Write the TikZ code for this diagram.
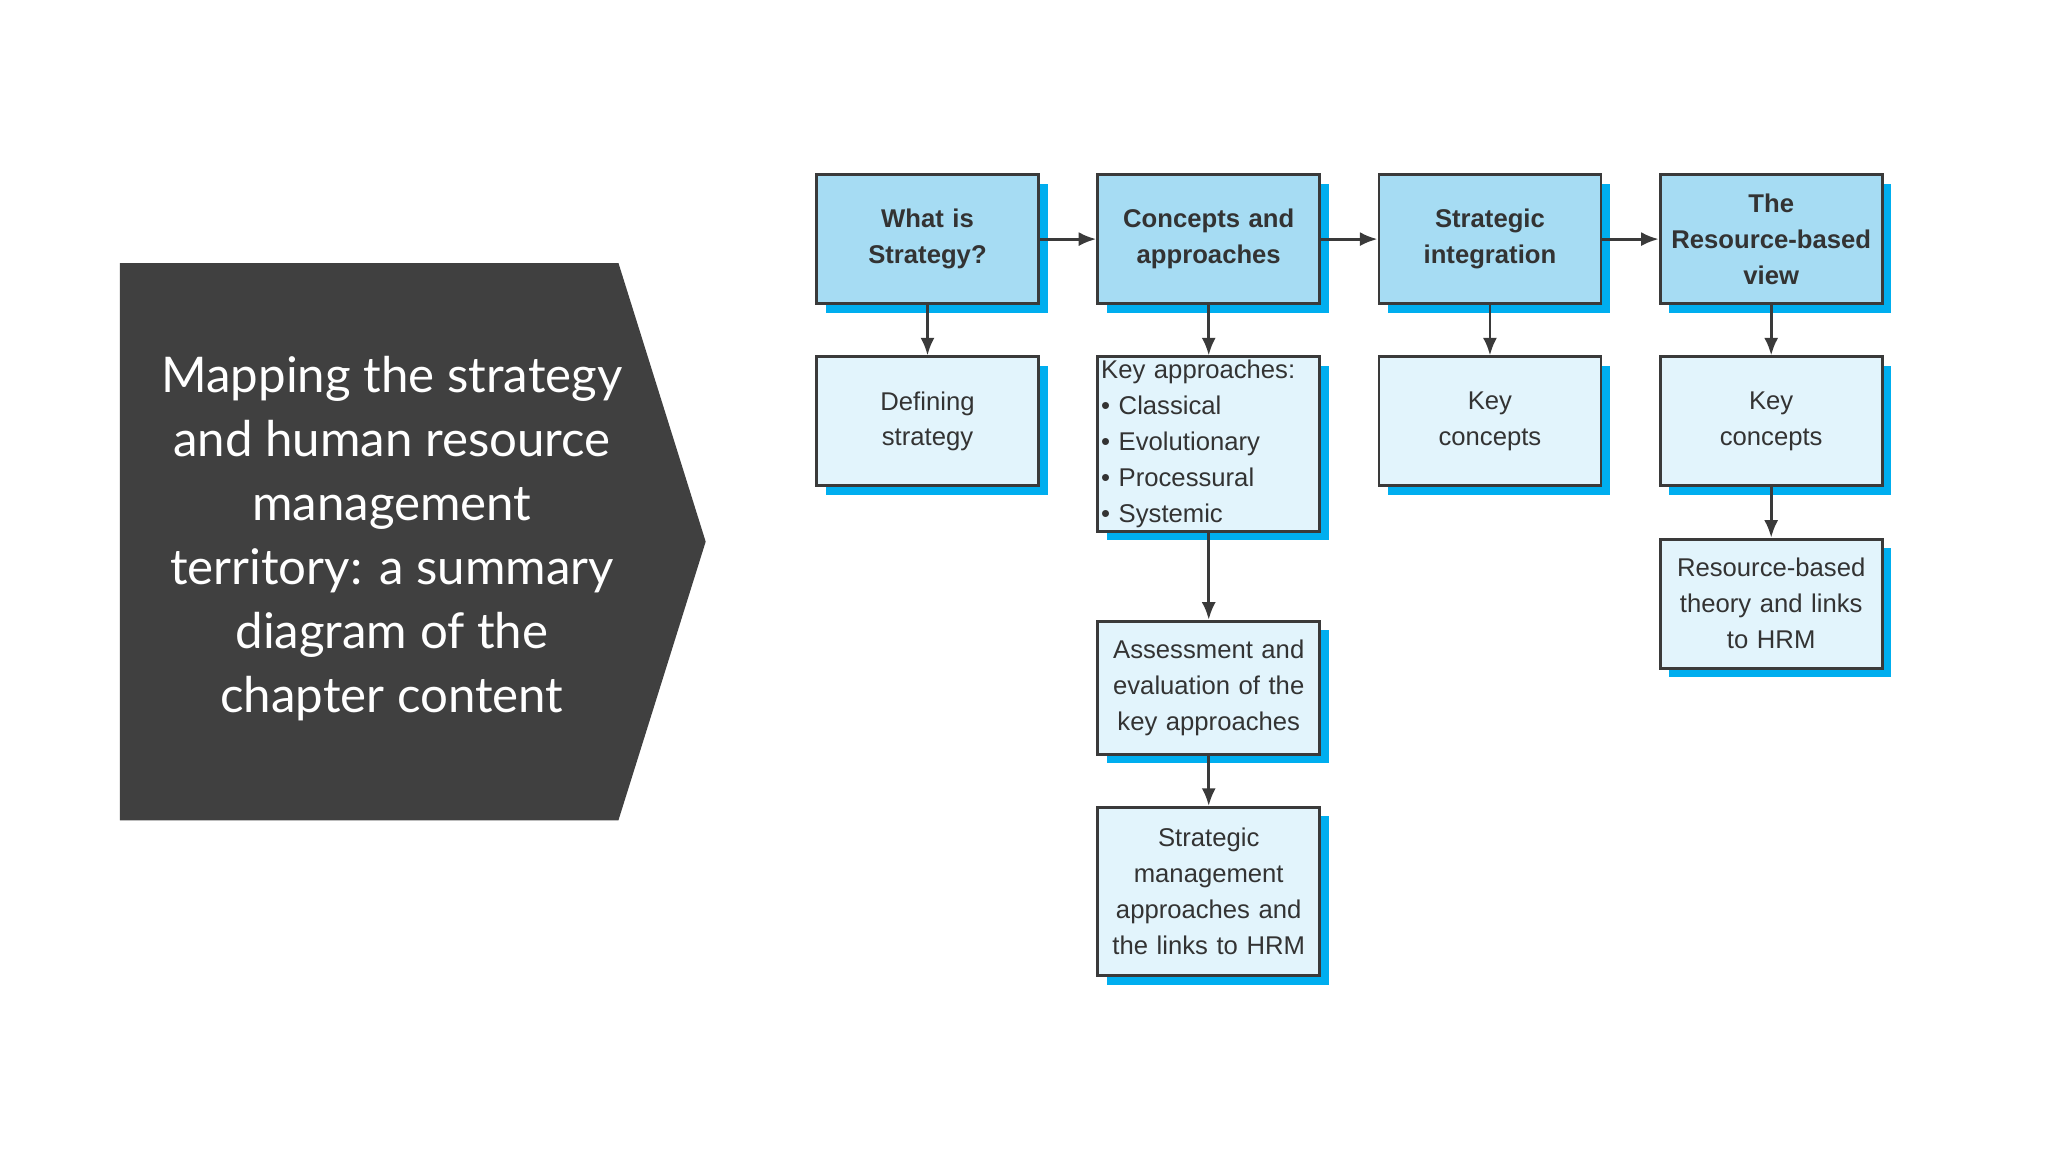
\documentclass[tikz,border=0pt]{standalone}
\usepackage{fontspec}
\setmainfont{Liberation Sans}
\newfontfamily\titlefont{Lato}
\usetikzlibrary{shadows,arrows.meta}
\definecolor{dark}{HTML}{404040}
\definecolor{topfill}{HTML}{A6DCF3}
\definecolor{lowfill}{HTML}{E2F4FC}
\definecolor{shade}{HTML}{00AEEF}
\definecolor{edge}{HTML}{3A3A3A}
\tikzset{
  box/.style={draw=edge, line width=0.8pt, rectangle, anchor=north west,
    minimum width=2.187cm, inner sep=1pt, align=center, text width=2.15cm,
    font=\fontsize{7.3}{10.2}\selectfont, text=black!80,
    general shadow={fill=shade, shadow xshift=0.091cm, shadow yshift=-0.091cm}},
  top/.style={box, fill=topfill, minimum height=1.29cm, font=\fontsize{7.3}{10.2}\selectfont\bfseries},
  low/.style={box, fill=lowfill},
  link/.style={-{Latex[length=5pt,width=4pt]}, draw=edge, line width=0.8pt}
}
\begin{document}
\begin{tikzpicture}[x=0.01302cm,y=-0.01302cm]
\useasboundingbox (0,0) rectangle (1573,885);
% title banner
\fill[dark] (92,202) -- (475,202) -- (542,416) -- (475,630) -- (92,630) -- cycle;
\node[text=white, align=center, font=\titlefont\fontsize{14}{18.2}\selectfont] (title) at (301,414)
  {Mapping the strategy\\and human resource\\management\\territory: a summary\\diagram of the\\chapter content};
% top row
\node[top] (s1) at (626,133) {What is\\Strategy?};
\node[top] (s2) at (842,133) {Concepts and\\approaches};
\node[top] (s3) at (1058,133) {Strategic\\integration};
\node[top] (s4) at (1274,133) {The\\Resource-based\\view};
% lower boxes
\node[low, minimum height=1.29cm, align=left] (d2) at (842,273)
  {Key approaches:\\\textbullet\ Classical\\\textbullet\ Evolutionary\\\textbullet\ Processural\\\textbullet\ Systemic};
\node[low, minimum height=1.29cm] (d1) at (626,273) {Defining\\strategy};
\node[low, minimum height=1.33cm] (d3) at (842,476) {Assessment and\\evaluation of the\\key approaches};
\node[low, minimum height=1.68cm] (d4) at (842,619) {Strategic\\management\\approaches and\\the links to HRM};
\node[low, minimum height=1.29cm] (k3) at (1058,273) {Key\\concepts};
\node[low, minimum height=1.29cm] (k4) at (1274,273) {Key\\concepts};
\node[low, minimum height=1.29cm] (r4) at (1274,413) {Resource-based\\theory and links\\to HRM};
% connectors
\draw[link] (s1) -- (s2);
\draw[link] (s2) -- (s3);
\draw[link] (s3) -- (s4);
\draw[link] (s1) -- (d1);
\draw[link] (s2) -- (d2);
\draw[link] (d2) -- (d3);
\draw[link] (d3) -- (d4);
\draw[link] (s3) -- (k3);
\draw[link] (s4) -- (k4);
\draw[link] (k4) -- (r4);
\end{tikzpicture}
\end{document}
